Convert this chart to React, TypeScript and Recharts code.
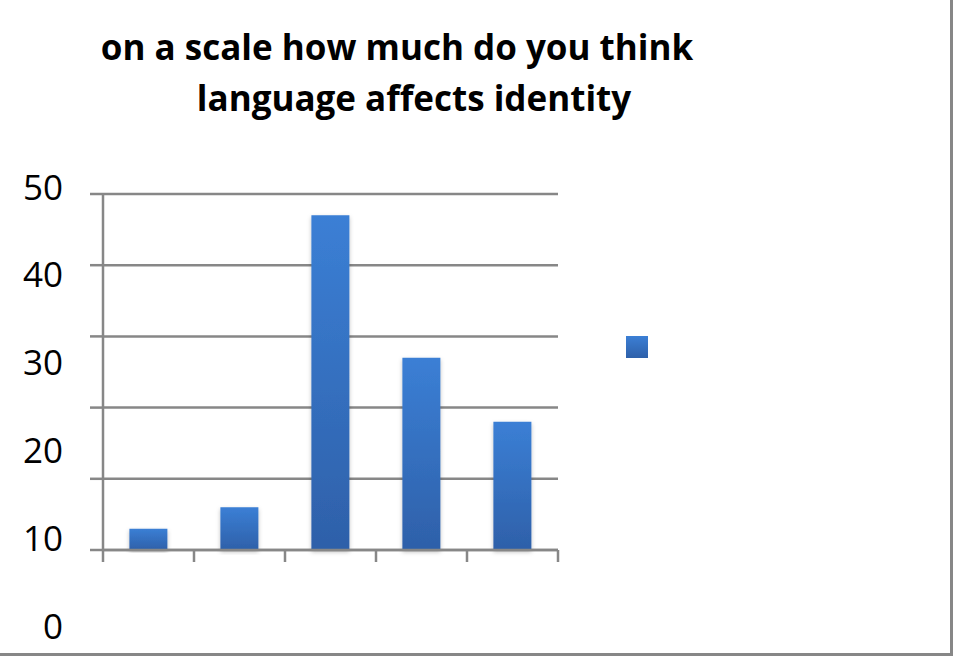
import { BarChart, Bar, XAxis, YAxis, CartesianGrid, Legend } from 'recharts';

const categories = ['1', '2', '3', '4', '5'];
const responses = [3, 6, 47, 27, 18];
const yTicks = [0, 10, 20, 30, 40, 50];
const titleLines = ['on a scale how much do you think', 'language affects identity'];

const data = categories.map((c, i) => ({ name: c, value: responses[i] }));

const W = 960;
const H = 660;
const PLOT_LEFT = 103;
const PLOT_RIGHT = 558;
const PLOT_TOP = 194;
const PLOT_BOTTOM = 550;
const X_AXIS_H = 30;
const AXIS = '#878787';
const FONT = '"Open Sans", "Noto Sans", sans-serif';

const band = (PLOT_RIGHT - PLOT_LEFT) / categories.length;

// the value labels sit on a wider spacing than the gridlines
const YTick = (props: any) => {
  const { y, payload } = props;
  const labelY = 187 + (y - PLOT_TOP) * 1.233;
  return (
    <g>
      <line x1={PLOT_LEFT - 13} x2={PLOT_LEFT} y1={y} y2={y} stroke={AXIS} strokeWidth={2.5} />
      <text x={63} y={labelY} dy="0.36em" textAnchor="end" fontSize={35} fontFamily={FONT} fill="#000">
        {payload.value}
      </text>
    </g>
  );
};

// tick marks between the categories, not under them
const XTick = (props: any) => {
  const { x, index } = props;
  const top = PLOT_BOTTOM;
  return (
    <g>
      <line x1={x - band / 2} x2={x - band / 2} y1={top} y2={top + 12} stroke={AXIS} strokeWidth={2.5} />
      {index === categories.length - 1 && (
        <line x1={x + band / 2} x2={x + band / 2} y1={top} y2={top + 12} stroke={AXIS} strokeWidth={2.5} />
      )}
    </g>
  );
};

export default function App() {
  return (
    <div style={{ position: 'absolute', left: 0, top: 0, width: W, height: H, background: '#fff' }}>
      <div
        style={{
          position: 'absolute',
          left: -10,
          top: -10,
          width: 950 + 13,
          height: 653 + 13,
          borderRight: `3px solid ${AXIS}`,
          borderBottom: `3px solid ${AXIS}`,
          boxSizing: 'border-box',
        }}
      />
      {titleLines.map((t, i) => (
        <div
          key={t}
          style={{
            position: 'absolute',
            left: 0,
            top: i === 0 ? 24 : 75,
            width: i === 0 ? 794 : 828,
            textAlign: 'center',
            fontFamily: FONT,
            fontWeight: 700,
            fontSize: 35,
            lineHeight: '46px',
            color: '#000',
            whiteSpace: 'nowrap',
          }}
        >
          {t}
        </div>
      ))}
      <BarChart
        width={W}
        height={H}
        data={data}
        margin={{ top: PLOT_TOP, right: W - PLOT_RIGHT, bottom: H - PLOT_BOTTOM - X_AXIS_H, left: 0 }}
        barCategoryGap="29%"
        style={{ position: 'absolute', left: 0, top: 0 }}
      >
        <defs>
          <linearGradient id="barFill" x1="0" y1="0" x2="0" y2="1">
            <stop offset="0%" stopColor="#3b7fd5" />
            <stop offset="100%" stopColor="#2e60a9" />
          </linearGradient>
          <filter id="barShadow" x="-20%" y="-5%" width="140%" height="115%">
            <feDropShadow dx="0" dy="2" stdDeviation="2" floodColor="#000" floodOpacity="0.25" />
          </filter>
        </defs>
        <CartesianGrid vertical={false} stroke={AXIS} strokeWidth={2.5} />
        <XAxis
          dataKey="name"
          height={X_AXIS_H}
          axisLine={{ stroke: AXIS, strokeWidth: 2.5 }}
          tickLine={false}
          tick={<XTick />}
        />
        <YAxis
          width={PLOT_LEFT}
          domain={[0, 50]}
          ticks={yTicks}
          axisLine={{ stroke: AXIS, strokeWidth: 2.5 }}
          tickLine={false}
          tick={<YTick />}
        />
        <Legend
          layout="vertical"
          align="right"
          verticalAlign="middle"
          iconType="square"
          iconSize={22}
          formatter={() => ''}
          wrapperStyle={{ left: 626, top: 336, width: 0, height: 0, overflow: 'visible', lineHeight: 0 }}
        />
        <Bar dataKey="value" fill="url(#barFill)" filter="url(#barShadow)" isAnimationActive={false} />
      </BarChart>
    </div>
  );
}
